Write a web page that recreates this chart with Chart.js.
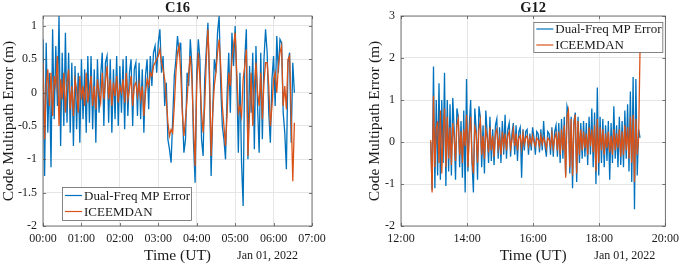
<!DOCTYPE html>
<html>
<head>
<meta charset="utf-8">
<script src="https://cdn.jsdelivr.net/npm/chart.js@4.4.1/dist/chart.umd.min.js"></script>
<style>
    html, body { margin: 0; padding: 0; background: #fff; }
    .panel { position: absolute; top: 0; width: 340px; height: 265px; }
    #left { left: 0; }
    #right { left: 345px; }
</style>
</head>
<body>
<div class="panel" id="left"><canvas id="c16Chart" width="340" height="265"></canvas></div>
<div class="panel" id="right"><canvas id="g12Chart" width="340" height="265"></canvas></div>
<script>
// 시리즈 이름
const seriesNames = ['Dual-Freq MP Error', 'ICEEMDAN'];

// 샘플 간격 (시간 단위, 2.5분)
const sampleStep = 2.5 / 60;

// C16 (00:00 ~ 06:33)
const c16Start = 0;
const c16XLabels = ['00:00', '01:00', '02:00', '03:00', '04:00', '05:00', '06:00', '07:00'];
const c16Blue = [
    0.8, -1.25, 0.75, -0.6, 0.3, -1.12, 0.95, -0.4, 0.7, -0.2,
    1.15, -0.8, 0.6, -0.5, 0.9, -0.45, 0.6, -0.6, 0.45, -0.8,
    0.4, -0.55, 0.3, -0.75, 0.5, -0.4, 0.35, -0.6, 0.55, -0.45,
    0.55, -0.55, 0.35, -0.75, 0.5, -0.3, 0.25, 0.6, -0.5, 0.45,
    0.55, -0.45, 0.5, -0.6, 0.35, -0.4, 0.55, -0.5, 0.4, -0.3,
    0.5, -0.55, 0.55, -0.35, 0.3, 0.5, -0.5, 0.35, 0.45, -0.35,
    0.45, -0.4, 0.35, -0.6, 0.25, 0.5, -0.25, 0.55, 0.1, 0.6,
    0.7, 0.3, 0.75, 0.95, 0.3, 0.55, -0.2, 0.15, -0.7, -0.85,
    -1.05, -0.4, 0.25, 0.5, 0.85, 0.6, 0.75, -0.2, -0.9, -0.7,
    0.3, 0.1, 0.8, 0.4, -0.75, -1.35, 0.3, 0.8, 0.5, -0.7,
    -0.95, 0.2, 0.65, 1.05, 0.1, -1.25, -0.3, 0.5, 0.3, 0.9,
    1.15, 0.1, -0.5, -0.7, -1.0, 0.0, 0.6, -0.3, 0.9, 0.4,
    1.0, 0.2, -0.9, 0.3, -1.05, -1.7, 0.5, 0.95, -1.0, 0.4,
    -0.3, 0.6, -0.85, 0.7, -0.2, -0.9, 0.6, -0.7, 0.5, 0.95,
    0.6, -0.3, -0.75, 0.2, 0.55, -0.2, 0.85, 0.3, 0.8, 0.75,
    -0.3, -0.6, -1.15, 0.45, 0.6, -0.75, 0.45, 0.0
];
const c16Orange = [
    0.45, -0.7, 0.1, 0.35, -0.2, 0.3, -0.35, 0.25, 0.1, 0.55,
    -0.5, 0.2, -0.1, 0.3, -0.3, 0.15, 0.35, -0.25, 0.1, -0.35,
    0.2, 0.05, -0.3, 0.25, -0.1, 0.1, -0.2, 0.3, -0.15, 0.05,
    0.25, -0.2, 0.1, -0.25, 0.2, 0.0, -0.15, 0.3, -0.1, 0.15,
    0.4, -0.1, 0.2, -0.2, 0.15, -0.05, 0.25, -0.15, 0.1, 0.0,
    0.2, -0.15, 0.3, -0.1, 0.05, 0.25, -0.2, 0.1, 0.15, -0.05,
    0.15, -0.1, 0.1, -0.35, 0.0, 0.2, 0.1, 0.3, 0.25, 0.4,
    0.45, 0.5, 0.55, 0.65, 0.45, 0.35, 0.2, -0.1, -0.45, -0.65,
    -0.55, -0.6, -0.2, 0.3, 0.6, 0.7, 0.3, -0.3, -0.65, -0.4,
    -0.1, 0.3, 0.55, 0.2, -0.5, -1.1, 0.1, 0.6, 0.2, -0.3,
    -0.6, -0.2, 0.5, 0.95, 0.3, -0.95, -0.3, 0.1, 0.3, 0.6,
    0.8, 0.4, -0.2, -0.5, -0.8, -0.3, 0.3, 0.1, 0.5, 0.7,
    0.9, 0.3, -0.3, -0.2, -0.35, 0.2, 0.4, 0.65, -0.95, -0.3,
    0.3, -0.5, 0.1, 0.45, 0.0, -0.2, 0.3, -0.4, 0.15, 0.45,
    0.45, 0.1, -0.5, -0.2, 0.2, 0.3, 0.0, 0.4, 0.6, 0.7,
    -0.2, 0.1, -0.25, 0.5, 0.55, -0.3, -1.33, -0.45
];

// G12 (12:54 ~ 19:14)
const g12Start = 12.9;
const g12XLabels = ['12:00', '14:00', '16:00', '18:00', '20:00'];
const g12Blue = [
    0.0, -1.15, 1.8, -1.1, 1.0, -0.8, 1.4, -0.9, 1.0, -0.5,
    1.65, -1.05, 1.0, -0.7, 0.9, -0.8, 1.05, 0.3, -0.9, 0.8,
    0.6, -0.6, 0.5, -0.85, 0.75, -1.2, 1.5, -0.7, 0.4, 1.0,
    -0.5, -1.2, 0.8, 0.3, -0.9, 0.85, 0.6, -0.6, 0.4, -0.75,
    0.75, 0.2, -0.5, 0.6, -0.45, 0.3, -0.55, 0.4, 0.55, -0.4,
    0.35, -0.5, 0.5, -0.3, 0.65, -0.4, 0.3, 0.45, -0.35, 0.2,
    0.45, -0.3, 0.4, -0.45, 0.25, 0.35, -0.85, 0.3, -0.2, 0.25,
    0.3, -0.3, 0.2, -0.2, 0.35, 0.1, -0.3, 0.25, 0.2, -0.25,
    0.3, -0.2, 0.5, -0.1, -0.35, 0.25, 0.2, -0.3, 0.35, -0.35,
    0.25, 0.4, -0.35, 0.45, -0.5, 0.55, -0.4, 0.6, -0.8, 0.85,
    0.7, -0.75, 0.6, -1.1, 0.5, 0.7, -0.95, 0.6, -0.5, 0.45,
    -0.4, 0.5, -0.35, 0.45, -0.55, 0.6, -0.3, 0.8, -0.6, 0.7,
    -1.0, 1.3, -0.8, 0.6, -0.5, 0.55, -0.6, 0.4, -0.45, 0.5,
    -0.9, 0.45, -0.5, 0.85, -0.4, 0.4, -0.6, 0.6, -0.55, 0.5,
    -0.6, 0.75, -0.4, 0.9, -0.7, 1.2, -0.95, 1.55, -1.6, 1.5,
    -0.8, 0.3, 0.1
];
const g12Orange = [
    0.05, -1.2, 1.1, -0.6, 0.3, 0.5, -0.5, 0.75, -0.75, 0.2,
    0.8, -0.6, 0.6, -0.4, 0.35, -0.55, 0.45, 0.1, -0.45, 0.4,
    0.55, -0.3, 0.25, -0.5, 0.3, -0.1, 0.65, -0.6, 0.2, 0.6,
    -0.45, -0.75, 0.35, 0.2, -0.5, 0.3, 0.5, -0.3, 0.15, -0.4,
    0.3, 0.1, -0.25, 0.35, -0.2, 0.15, -0.35, 0.2, 0.3, -0.15,
    0.1, -0.3, 0.25, -0.1, 0.2, -0.2, 0.15, 0.25, -0.15, 0.05,
    0.3, -0.1, 0.2, -0.2, 0.1, 0.15, -0.15, 0.2, -0.05, 0.1,
    0.15, -0.1, 0.1, -0.05, 0.15, 0.0, -0.1, 0.1, 0.05, -0.1,
    0.15, -0.05, 0.1, 0.0, -0.15, 0.1, 0.05, -0.1, 0.2, -0.15,
    0.1, 0.2, -0.2, 0.25, -0.3, 0.3, -0.2, 0.4, -0.85, 0.6,
    0.75, -0.6, 0.55, -0.8, 0.4, 0.65, -0.75, 0.5, -0.3, 0.3,
    -0.2, 0.25, -0.15, 0.2, -0.3, 0.35, -0.1, 0.3, -0.25, 0.4,
    -0.7, 0.55, -0.5, 0.35, -0.2, 0.3, -0.3, 0.2, -0.15, 0.25,
    -0.25, 0.15, -0.3, 0.3, -0.2, 0.2, -0.15, 0.3, -0.35, 0.25,
    -0.3, 0.4, -0.2, 0.35, -0.4, 0.6, -0.5, 0.65, -0.95, 0.55,
    -0.3, 0.1, 2.15
];

const FONT = '"Liberation Serif", "Times New Roman", serif';
const BLUE = '#0072BD';
const ORANGE = '#D95319';

// 값 배열 -> {x, y} (샘플 시각 = 시작 + 인덱스 * 간격)
function toPoints(start, values) {
    return values.map((v, i) => ({ x: start + i * sampleStep, y: v }));
}

// 테두리, 안쪽 눈금, 제목, 축 이름, 범례 그리기
const matlabFrame = {
    id: 'matlabFrame',
    afterDraw(chart, args, opts) {
        const ctx = chart.ctx;
        const a = chart.chartArea;
        const xs = chart.scales.x;
        const ys = chart.scales.y;
        ctx.save();

        ctx.strokeStyle = '#555';
        ctx.lineWidth = 0.8;
        ctx.strokeRect(a.left, a.top, a.right - a.left, a.bottom - a.top);
        ctx.beginPath();
        xs.ticks.forEach(t => {
            const px = Math.round(xs.getPixelForValue(t.value)) + 0.5;
            ctx.moveTo(px, a.bottom); ctx.lineTo(px, a.bottom - 3);
            ctx.moveTo(px, a.top); ctx.lineTo(px, a.top + 3);
        });
        ys.ticks.forEach(t => {
            const py = Math.round(ys.getPixelForValue(t.value)) + 0.5;
            ctx.moveTo(a.left, py); ctx.lineTo(a.left + 3, py);
            ctx.moveTo(a.right, py); ctx.lineTo(a.right - 3, py);
        });
        ctx.stroke();

        const cx = (a.left + a.right) / 2;
        ctx.fillStyle = '#1a1a1a';
        ctx.textAlign = 'center';
        ctx.textBaseline = 'middle';
        ctx.font = 'bold 14.5px ' + FONT;
        ctx.fillText(opts.title, cx, 8);

        ctx.font = '15.5px ' + FONT;
        ctx.fillText('Time (UT)', cx, 256);
        ctx.font = '12px ' + FONT;
        ctx.textAlign = 'right';
        ctx.fillText('Jan 01, 2022', a.right - opts.dateGap, 256);

        ctx.save();
        ctx.translate(opts.yTitleX, (a.top + a.bottom) / 2);
        ctx.rotate(-Math.PI / 2);
        ctx.textAlign = 'center';
        ctx.font = '15.5px ' + FONT;
        ctx.fillText('Code Multipath Error (m)', 0, 0);
        ctx.restore();

        // 범례 상자
        const w = 129, h = opts.legendH;
        const lx = opts.legendRight ? a.right - 3 - w : a.left + 19;
        const ly = opts.legendRight ? a.top + 6 : a.bottom - 6 - h;
        ctx.fillStyle = '#fff';
        ctx.fillRect(lx, ly, w, h);
        ctx.strokeStyle = '#666';
        ctx.lineWidth = 0.8;
        ctx.strokeRect(lx + 0.5, ly + 0.5, w, h);
        ctx.font = '13px ' + FONT;
        ctx.textAlign = 'left';
        const rows = [ly + h / 2 - 8, ly + h / 2 + 8];
        [BLUE, ORANGE].forEach((c, i) => {
            ctx.strokeStyle = c;
            ctx.lineWidth = 1.2;
            ctx.beginPath();
            ctx.moveTo(lx + 3, rows[i]);
            ctx.lineTo(lx + 20, rows[i]);
            ctx.stroke();
            ctx.fillStyle = '#1a1a1a';
            ctx.fillText(seriesNames[i], lx + 22, rows[i] + 1);
        });
        ctx.restore();
    }
};

function makeChart(canvasId, cfg) {
    return new Chart(document.getElementById(canvasId), {
        type: 'line',
        data: {
            datasets: [
                { label: seriesNames[0], data: toPoints(cfg.start, cfg.blue), borderColor: BLUE, borderWidth: 1.3, pointRadius: 0, order: 2 },
                { label: seriesNames[1], data: toPoints(cfg.start, cfg.orange), borderColor: ORANGE, borderWidth: 1.3, pointRadius: 0, order: 1 }
            ]
        },
        options: {
            responsive: false,
            animation: false,
            layout: { padding: { top: 16, right: cfg.padRight, left: 0, bottom: 0 } },
            plugins: {
                legend: { display: false },
                tooltip: { enabled: false },
                matlabFrame: cfg.frame
            },
            scales: {
                x: {
                    type: 'linear',
                    min: cfg.xMin,
                    max: cfg.xMax,
                    afterFit: (s) => { s.height = 39; },
                    grid: { color: '#e6e6e6', lineWidth: 1, drawTicks: false },
                    border: { display: false },
                    ticks: {
                        stepSize: cfg.xStep,
                        autoSkip: false,
                        maxRotation: 0,
                        padding: 6,
                        color: '#1a1a1a',
                        font: { family: FONT, size: 12 },
                        callback: (v, i) => cfg.xLabels[i]
                    }
                },
                y: {
                    min: cfg.yMin,
                    max: cfg.yMax,
                    afterFit: (s) => { s.width = cfg.yWidth; },
                    grid: { color: '#e6e6e6', lineWidth: 1, drawTicks: false },
                    border: { display: false },
                    ticks: {
                        stepSize: cfg.yStep,
                        includeBounds: false,
                        padding: 6,
                        color: '#1a1a1a',
                        font: { family: FONT, size: 12 },
                        callback: (v) => String(Math.round(v * 10) / 10)
                    }
                }
            }
        },
        plugins: [matlabFrame]
    });
}

makeChart('c16Chart', {
    start: c16Start, blue: c16Blue, orange: c16Orange, xLabels: c16XLabels,
    xMin: 0, xMax: 7, xStep: 1, yMin: -2, yMax: 1.15, yStep: 0.5,
    yWidth: 43, padRight: 28,
    frame: { title: 'C16', dateGap: 14, yTitleX: 9, legendRight: false, legendH: 33 }
});

makeChart('g12Chart', {
    start: g12Start, blue: g12Blue, orange: g12Orange, xLabels: g12XLabels,
    xMin: 12, xMax: 20, xStep: 2, yMin: -2, yMax: 3, yStep: 1,
    yWidth: 56, padRight: 17,
    frame: { title: 'G12', dateGap: 10, yTitleX: 30, legendRight: true, legendH: 30 }
});
</script>
</body>
</html>
